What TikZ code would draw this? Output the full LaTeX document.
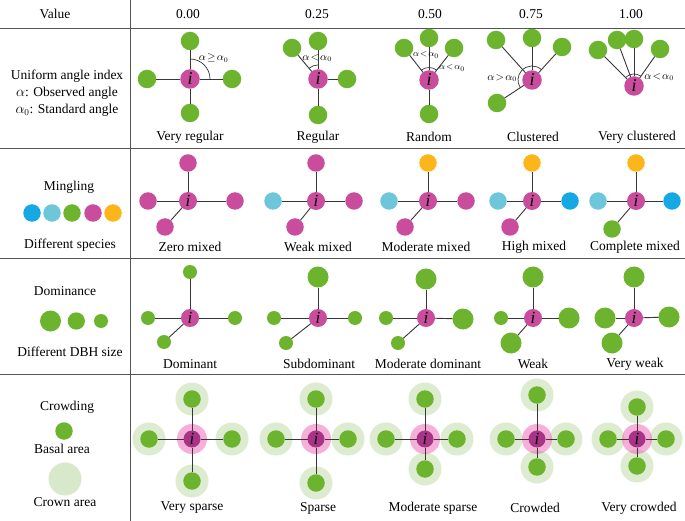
\documentclass[tikz,border=0pt]{standalone}
\usepackage{fontspec}
\setmainfont{Liberation Serif}
\definecolor{tgreen}{RGB}{108,180,45}
\definecolor{ipink}{RGB}{202,76,156}
\definecolor{tcyan}{RGB}{110,198,218}
\definecolor{tblue}{RGB}{22,168,226}
\definecolor{torange}{RGB}{252,182,26}
\definecolor{idark}{RGB}{168,52,135}
\definecolor{haloG}{RGB}{170,208,140}
\definecolor{haloP}{RGB}{236,96,180}
\definecolor{linec}{RGB}{55,55,55}
\definecolor{gridc}{RGB}{85,85,85}
\begin{document}
\begin{tikzpicture}[x=1pt,y=-1pt,
  disc/.style={circle,inner sep=0pt,outer sep=0pt,draw=none,fill=#1},
  ci/.style={disc=ipink,minimum size=19.5pt,font=\fontsize{18}{18}\selectfont\itshape},
  g1/.style={disc=tgreen,minimum size=18.5pt},
  sp/.style={disc=#1,minimum size=17.5pt},
  ci2/.style={disc=ipink,minimum size=18pt,font=\fontsize{17}{17}\selectfont\itshape},
  ds/.style={disc=tgreen,minimum size=14pt},
  dm/.style={disc=tgreen,minimum size=17.3pt},
  db/.style={disc=tgreen,minimum size=21pt},
  hg/.style={disc=haloG,fill opacity=0.4,minimum size=33pt},
  hp/.style={disc=haloP,fill opacity=0.5,minimum size=30pt},
  cg/.style={disc=tgreen,minimum size=17.5pt},
  cd/.style={disc=idark,minimum size=17pt,font=\fontsize{17}{17}\selectfont\itshape},
  conn/.style={draw=linec,line width=0.9pt},
  ang/.style={draw=linec,line width=0.7pt},
  lab/.style={font=\fontsize{13.5}{15}\selectfont,inner sep=0pt},
  alab/.style={font=\fontsize{10.5}{12}\selectfont,inner sep=0pt},
  slab/.style={font=\fontsize{9.5}{11}\selectfont,inner sep=0pt},
  grid/.style={draw=gridc,line width=1pt}]
\fill[white] (0,0) rectangle (685,521);
\useasboundingbox (0,0) rectangle (685,521);
% table
\draw[grid] (0,28.5) -- (685,28.5);
\draw[grid] (0,148.5) -- (685,148.5);
\draw[grid] (0,259) -- (685,259);
\draw[grid] (0,374.5) -- (685,374.5);
\draw[grid] (130,0) -- (130,521);
% header
\node[lab] (hv) at (55,14) {Value};
\node[lab] (h1) at (188,14) {0.00};
\node[lab] (h2) at (317,14) {0.25};
\node[lab] (h3) at (430,14) {0.50};
\node[lab] (h4) at (531,14) {0.75};
\node[lab] (h5) at (631,14) {1.00};
% ===== row 1 legend
\node[lab] (t1a) at (67,76) {Uniform angle index};
\node[lab] (t1b) at (67,93) {$\alpha$: Observed angle};
\node[lab] (t1c) at (67,110) {$\alpha_0$: Standard angle};
% row 1 cell A
\node[ci] (iA) at (190,79) {i};
\node[g1] (nA1) at (190,41) {};
\node[g1] (nA2) at (147,79) {};
\node[g1] (nA3) at (232,79) {};
\node[g1] (nA4) at (190,113) {};
\foreach \k in {1,...,4} \draw[conn] (iA) -- (nA\k);
\draw[ang] ([shift={(-90:20)}]iA.center) arc[start angle=-90,end angle=0,radius=20];
\node[alab] (aA) at (213.5,58) {$\alpha\!\geq\!\alpha_0$};
\node[lab] (lA) at (190,137) {Very regular};
% cell B
\node[ci] (iB) at (318,79) {i};
\node[g1] (nB1) at (318,41) {};
\node[g1] (nB2) at (292,48) {};
\node[g1] (nB3) at (347,79) {};
\node[g1] (nB4) at (318,115) {};
\foreach \k in {1,...,4} \draw[conn] (iB) -- (nB\k);
\draw[ang] ([shift={(-90:14)}]iB.center) arc[start angle=-90,end angle=-129,radius=14];
\node[alab] (aB) at (317,58) {$\alpha\!<\!\alpha_0$};
\node[lab] (lB) at (318,137) {Regular};
% cell C
\node[ci] (iC) at (429,80) {i};
\node[g1] (nC1) at (404,48) {};
\node[g1] (nC2) at (429,38) {};
\node[g1] (nC3) at (454,48) {};
\node[g1] (nC4) at (429,114) {};
\foreach \k in {1,...,4} \draw[conn] (iC) -- (nC\k);
\draw[ang] ([shift={(-52:12.5)}]iC.center) arc[start angle=-52,end angle=-128,radius=12.5];
\node[slab] (aC1) at (426,55) {$\alpha\!<\!\alpha_0$};
\node[slab] (aC2) at (452,68) {$\alpha\!<\!\alpha_0$};
\node[lab] (lC) at (429,137) {Random};
% cell D
\node[ci] (iD) at (532,80) {i};
\node[g1] (nD1) at (496,40) {};
\node[g1] (nD2) at (532,38) {};
\node[g1] (nD3) at (562,47) {};
\node[g1] (nD4) at (497,103) {};
\foreach \k in {1,...,4} \draw[conn] (iD) -- (nD\k);
\draw[ang] ([shift={(-48:14)}]iD.center) arc[start angle=-48,end angle=-213,radius=14];
\node[alab,anchor=east] (aD) at (517,78) {$\alpha\!>\!\alpha_0$};
\node[lab] (lD) at (533,137) {Clustered};
% cell E
\node[ci] (iE) at (634,86) {i};
\node[g1] (nE1) at (598,50) {};
\node[g1] (nE2) at (617,40) {};
\node[g1] (nE3) at (634,39) {};
\node[g1] (nE4) at (660,49) {};
\foreach \k in {1,...,4} \draw[conn] (iE) -- (nE\k);
\draw[ang] ([shift={(-54:12)}]iE.center) arc[start angle=-54,end angle=-135,radius=12];
\node[alab] (aE) at (659,77) {$\alpha\!<\!\alpha_0$};
\node[lab] (lE) at (637,137) {Very clustered};
% ===== row 2 legend
\node[lab] (t2a) at (69,187) {Mingling};
\node[sp=tblue] (s1) at (32,213) {};
\node[sp=tcyan] (s2) at (52,213) {};
\node[sp=tgreen] (s3) at (72,213) {};
\node[sp=ipink] (s4) at (93,213) {};
\node[sp=torange] (s5) at (113,213) {};
\node[lab] (t2b) at (70,245) {Different species};
% row 2 cells
\node[ci2] (iF) at (188,201) {i};
\node[sp=ipink] (nF1) at (188,163) {};
\node[sp=ipink] (nF2) at (148,201) {};
\node[sp=ipink] (nF3) at (235,201) {};
\node[sp=ipink] (nF4) at (165,227) {};
\foreach \k in {1,...,4} \draw[conn] (iF) -- (nF\k);
\node[lab] (lF) at (190,247) {Zero mixed};
\node[ci2] (iG) at (316,201) {i};
\node[sp=ipink] (nG1) at (316,163) {};
\node[sp=tcyan] (nG2) at (273,201) {};
\node[sp=ipink] (nG3) at (354,201) {};
\node[sp=ipink] (nG4) at (295,227) {};
\foreach \k in {1,...,4} \draw[conn] (iG) -- (nG\k);
\node[lab] (lG) at (318,247) {Weak mixed};
\node[ci2] (iH) at (428,201) {i};
\node[sp=torange] (nH1) at (428,163) {};
\node[sp=tcyan] (nH2) at (389,201) {};
\node[sp=ipink] (nH3) at (466,201) {};
\node[sp=ipink] (nH4) at (405,227) {};
\foreach \k in {1,...,4} \draw[conn] (iH) -- (nH\k);
\node[lab] (lH) at (426,247) {Moderate mixed};
\node[ci2] (iJ) at (532,201) {i};
\node[sp=torange] (nJ1) at (532,163) {};
\node[sp=tcyan] (nJ2) at (498,201) {};
\node[sp=tblue] (nJ3) at (570,201) {};
\node[sp=ipink] (nJ4) at (510,227) {};
\foreach \k in {1,...,4} \draw[conn] (iJ) -- (nJ\k);
\node[lab] (lJ) at (534,247) {High mixed};
\node[ci2] (iK) at (636,201) {i};
\node[sp=torange] (nK1) at (636,163) {};
\node[sp=tcyan] (nK2) at (598,201) {};
\node[sp=tblue] (nK3) at (672,201) {};
\node[sp=tgreen] (nK4) at (612,229) {};
\foreach \k in {1,...,4} \draw[conn] (iK) -- (nK\k);
\node[lab] (lK) at (635,247) {Complete mixed};
% ===== row 3 legend
\node[lab] (t3a) at (65,291) {Dominance};
\node[db] (d1) at (50.5,321) {};
\node[dm] (d2) at (76.3,321) {};
\node[ds] (d3) at (101,321) {};
\node[lab] (t3b) at (70,352) {Different DBH size};
% row 3 cells
\node[ci2] (iL) at (190,318) {i};
\node[ds] (nL1) at (190,272) {};
\node[ds] (nL2) at (148,318) {};
\node[ds] (nL3) at (235,318) {};
\node[ds] (nL4) at (164,342) {};
\foreach \k in {1,...,4} \draw[conn] (iL) -- (nL\k);
\node[lab] (lL) at (190,364) {Dominant};
\node[ci2] (iM) at (318,318) {i};
\node[db] (nM1) at (318,277) {};
\node[ds] (nM2) at (274,318) {};
\node[ds] (nM3) at (355,318) {};
\node[ds] (nM4) at (286,343) {};
\foreach \k in {1,...,4} \draw[conn] (iM) -- (nM\k);
\node[lab] (lM) at (319,364) {Subdominant};
\node[ci2] (iN) at (426,318) {i};
\node[db] (nN1) at (426,279) {};
\node[ds] (nN2) at (386,318) {};
\node[db] (nN3) at (463,319) {};
\node[ds] (nN4) at (398,343) {};
\foreach \k in {1,...,4} \draw[conn] (iN) -- (nN\k);
\node[lab] (lN) at (428,364) {Moderate dominant};
\node[ci2] (iP) at (533,318) {i};
\node[db] (nP1) at (533,277) {};
\node[ds] (nP2) at (501,318) {};
\node[db] (nP3) at (569,318) {};
\node[db] (nP4) at (511,343) {};
\foreach \k in {1,...,4} \draw[conn] (iP) -- (nP\k);
\node[lab] (lP) at (533,364) {Weak};
\node[ci2] (iQ) at (634,318) {i};
\node[db] (nQ1) at (634,277) {};
\node[db] (nQ2) at (605,318) {};
\node[db] (nQ3) at (669,317) {};
\node[db] (nQ4) at (612,343) {};
\foreach \k in {1,...,4} \draw[conn] (iQ) -- (nQ\k);
\node[lab] (lQ) at (635,364) {Very weak};
% ===== row 4 legend
\node[lab] (t4a) at (67,407) {Crowding};
\node[cg] (b1) at (64,431) {};
\node[lab] (t4b) at (62,449) {Basal area};
\node[hg,fill opacity=0.45] (b2) at (65,479) {};
\node[lab] (t4c) at (65,502) {Crown area};
% row 4 cells: halos
\foreach \n/\x/\ya/\xl/\xr/\yb in {R/192/399/149/232/481, S/316/399/276/348/483, T/425/399/386/457/469, U/537/395/506/566/467, V/637/407/608/666/466}{
  \node[hg] (h\n1) at (\x,\ya) {};
  \node[hg] (h\n2) at (\xl,439) {};
  \node[hg] (h\n3) at (\xr,439) {};
  \node[hg] (h\n4) at (\x,\yb) {};
  \node[hp] (h\n0) at (\x,439) {};
  \node[cd] (i\n) at (\x,439) {i};
  \node[cg] (n\n1) at (\x,\ya) {};
  \node[cg] (n\n2) at (\xl,439) {};
  \node[cg] (n\n3) at (\xr,439) {};
  \node[cg] (n\n4) at (\x,\yb) {};
  \foreach \k in {1,...,4} \draw[conn] (i\n) -- (n\n\k);
}
\node[lab] (lR) at (192,508) {Very sparse};
\node[lab] (lS) at (318,508) {Sparse};
\node[lab] (lT) at (433,508) {Moderate sparse};
\node[lab] (lU) at (535,508) {Crowded};
\node[lab] (lV) at (639,508) {Very crowded};
\end{tikzpicture}
\end{document}
